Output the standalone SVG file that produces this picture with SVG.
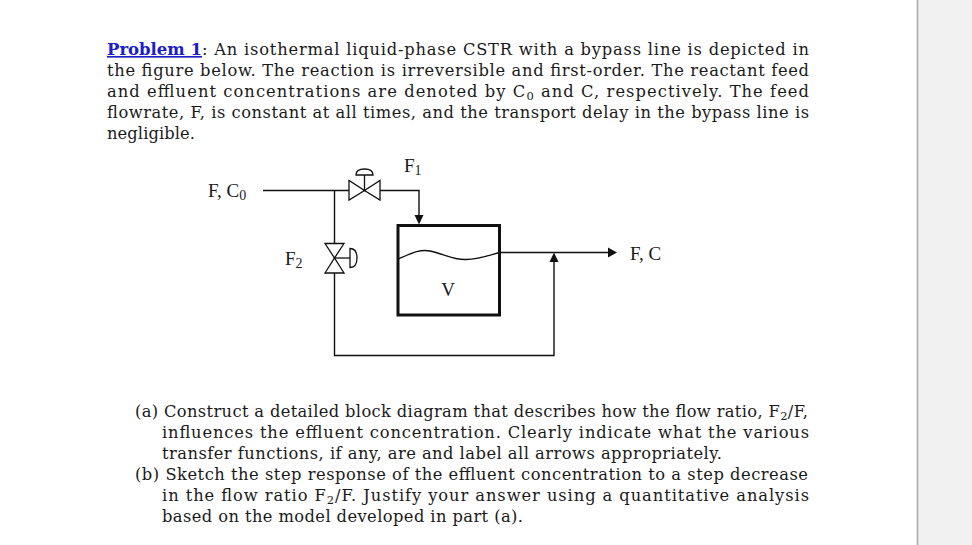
<svg xmlns="http://www.w3.org/2000/svg" width="972" height="545" viewBox="0 0 972 545">
<style>
.t{font-family:"DejaVu Serif","Liberation Serif",serif;font-size:16.3px;fill:#1a1a1a}
.lb{font-family:"Liberation Serif","Times New Roman",serif;font-size:19px;fill:#1a1a1a}
.pipe{fill:none;stroke:#111;stroke-width:1.4}
.vl{fill:#fff;stroke:#111;stroke-width:1.3;stroke-linejoin:miter}
.ah{fill:#111}
</style>
<rect x="0" y="0" width="972" height="545" fill="#fff"/>
<rect x="917" y="0" width="55" height="545" fill="#f0f0f0"/>
<line x1="917.5" y1="0" x2="917.5" y2="545" stroke="#a8a8a8" stroke-width="1.5"/>

<g id="problem-text">
<text class="t" x="107" y="55" textLength="95" lengthAdjust="spacingAndGlyphs" font-weight="bold" style="fill:#1c1cc8" text-decoration="underline">Problem 1</text>
<text class="t" x="202" y="55" textLength="607" lengthAdjust="spacing">: An isothermal liquid-phase CSTR with a bypass line is depicted in</text>
<text class="t" x="107" y="76" textLength="702" lengthAdjust="spacing">the figure below. The reaction is irreversible and first-order. The reactant feed</text>
<text class="t" x="107" y="97" textLength="702" lengthAdjust="spacing">and effluent concentrations are denoted by C<tspan font-size="11.5" dy="3">0</tspan><tspan dy="-3"> and C, respectively. The feed</tspan></text>
<text class="t" x="107" y="118" textLength="702" lengthAdjust="spacing">flowrate, F, is constant at all times, and the transport delay in the bypass line is</text>
<text class="t" x="107" y="139" textLength="88" lengthAdjust="spacing">negligible.</text>
</g>

<g id="connectors">
<path class="pipe" d="M263,190.5 H419 V216"/>
<path class="pipe" d="M334.5,190.5 V355.5 H554 V261"/>
<path class="pipe" d="M500,252.5 H609"/>
<polygon class="ah" points="414.5,215 423.5,215 419,224.5"/>
<polygon class="ah" points="608,247.5 617,252.5 608,257.5"/>
<polygon class="ah" points="549.5,262 558.5,262 554,252.5"/>
</g>

<g id="valve-f1">
<polygon class="vl" points="349,180.5 349,200 364.5,190.5"/>
<polygon class="vl" points="380,180.5 380,200 364.5,190.5"/>
<line x1="364.5" y1="190.5" x2="364.5" y2="175" stroke="#111" stroke-width="1.3"/>
<path class="vl" d="M356,175 Q356,169 364.5,169 Q373,169 373,175 Z"/>
</g>

<g id="valve-f2">
<polygon class="vl" points="325,243.5 344,243.5 334.5,258"/>
<polygon class="vl" points="325,273 344,273 334.5,258"/>
<line x1="334.5" y1="258" x2="350" y2="258" stroke="#111" stroke-width="1.3"/>
<path class="vl" d="M350,248.5 Q357,248.5 357,258 Q357,267.5 350,267.5 Z"/>
</g>

<g id="tank">
<rect x="398" y="225.5" width="101.5" height="89.5" fill="#fff" stroke="#111" stroke-width="3"/>
<path d="M398,259 C412,253 420,249 430,251 C445,254 452,260 466,259.5 C480,259 490,255 499.5,252.5" fill="none" stroke="#111" stroke-width="1.3"/>
<text class="lb" x="448" y="296" text-anchor="middle">V</text>
</g>

<g id="labels">
<text class="lb" x="208" y="197">F, C<tspan font-size="14" dy="3">0</tspan></text>
<text class="lb" x="404" y="172">F<tspan font-size="14" dy="3">1</tspan></text>
<text class="lb" x="285" y="265">F<tspan font-size="14" dy="3">2</tspan></text>
<text class="lb" x="630" y="260">F, C</text>
</g>

<g id="questions">
<text class="t" x="135" y="417" textLength="673" lengthAdjust="spacing">(a) Construct a detailed block diagram that describes how the flow ratio, F<tspan font-size="11.5" dy="3">2</tspan><tspan dy="-3">/F,</tspan></text>
<text class="t" x="162" y="438" textLength="647" lengthAdjust="spacing">influences the effluent concentration. Clearly indicate what the various</text>
<text class="t" x="162" y="459" textLength="560" lengthAdjust="spacing">transfer functions, if any, are and label all arrows appropriately.</text>
<text class="t" x="135" y="480" textLength="673" lengthAdjust="spacing">(b) Sketch the step response of the effluent concentration to a step decrease</text>
<text class="t" x="162" y="501" textLength="647" lengthAdjust="spacing">in the flow ratio F<tspan font-size="11.5" dy="3">2</tspan><tspan dy="-3">/F. Justify your answer using a quantitative analysis</tspan></text>
<text class="t" x="162" y="522" textLength="361" lengthAdjust="spacing">based on the model developed in part (a).</text>
</g>
</svg>
